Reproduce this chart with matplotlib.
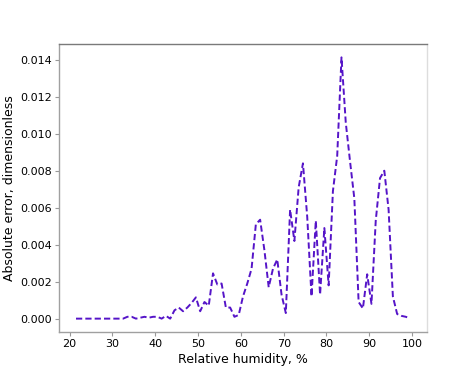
import matplotlib
matplotlib.use("Agg")
import matplotlib.pyplot as plt

humidity = [21.5, 22.5, 23.5, 24.5, 25.5, 26.5, 27.5, 28.5, 29.5, 30.5,
            31.5, 32.5, 33.5, 34.5, 35.5, 36.5, 37.5, 38.5, 39.5, 40.5,
            41.5, 42.5, 43.5, 44.5, 45.5, 46.5, 47.5, 48.5, 49.5, 50.5,
            51.5, 52.5, 53.5, 54.5, 55.5, 56.5, 57.5, 58.5, 59.5, 60.5,
            61.5, 62.5, 63.5, 64.5, 65.5, 66.5, 67.5, 68.5, 69.5, 70.5,
            71.5, 72.5, 73.5, 74.5, 75.5, 76.5, 77.5, 78.5, 79.5, 80.5,
            81.5, 82.5, 83.5, 84.5, 85.5, 86.5, 87.5, 88.5, 89.5, 90.5,
            91.5, 92.5, 93.5, 94.5, 95.5, 96.5, 97.5, 98.5, 99.5]
abs_error = [0.0, 0.0, 0.0, 0.0, 0.0, 0.0, 0.0, 0.0, 0.0, 0.0,
             0.0, 0.0, 0.0001, 0.0001, 0.0, 0.00005, 0.0001, 0.00005, 0.0001, 0.0001,
             0.0, 0.00015, 0.0, 0.00045, 0.0006, 0.0004, 0.0006, 0.00085, 0.00115, 0.0004,
             0.0009, 0.0007, 0.00245, 0.00185, 0.0019, 0.0006, 0.0006, 0.0001, 0.0002, 0.0012,
             0.0019, 0.0027, 0.0051, 0.00535, 0.0037, 0.0017, 0.0027, 0.0032, 0.0013, 0.0003,
             0.0059, 0.0042, 0.0071, 0.0084, 0.0055, 0.0012, 0.0053, 0.0013, 0.0049, 0.0018,
             0.0069, 0.0088, 0.01413, 0.0106, 0.0085, 0.0065, 0.0009, 0.00055, 0.0024, 0.0008,
             0.0053, 0.0076, 0.0080, 0.0059, 0.0012, 0.00025, 0.00015, 0.0001, 0.00002]

fig = plt.figure(figsize=(4.74, 3.66), dpi=100)
ax = fig.add_axes([59.3 / 474, (366 - 331.7) / 366, (426.7 - 59.3) / 474, (331.7 - 44.3) / 366])
ax.plot(humidity, abs_error, linestyle="--", color="#5514c8", linewidth=1.4,
        dashes=(3.2, 1.6))

ax.set_xticks([20, 30, 40, 50, 60, 70, 80, 90, 100])
ax.set_yticks([0.0, 0.002, 0.004, 0.006, 0.008, 0.010, 0.012, 0.014])
ax.set_yticklabels(["0.000", "0.002", "0.004", "0.006", "0.008", "0.010", "0.012", "0.014"])
ax.tick_params(axis="both", labelsize=8, length=3, width=0.8, color="#999999", pad=2.5)

ax.spines["top"].set_color("#7a7a7a")
ax.spines["right"].set_color("#dddddd")
ax.spines["left"].set_color("#a0a0a0")
ax.spines["bottom"].set_color("#a0a0a0")
for s in ax.spines.values():
    s.set_linewidth(1.0)

ax.set_xlabel("Relative humidity, %", fontsize=9, labelpad=2.5)
ax.set_ylabel("Absolute error, dimensionless", fontsize=9, labelpad=2.5)

fig.savefig("out.png", dpi=100)
